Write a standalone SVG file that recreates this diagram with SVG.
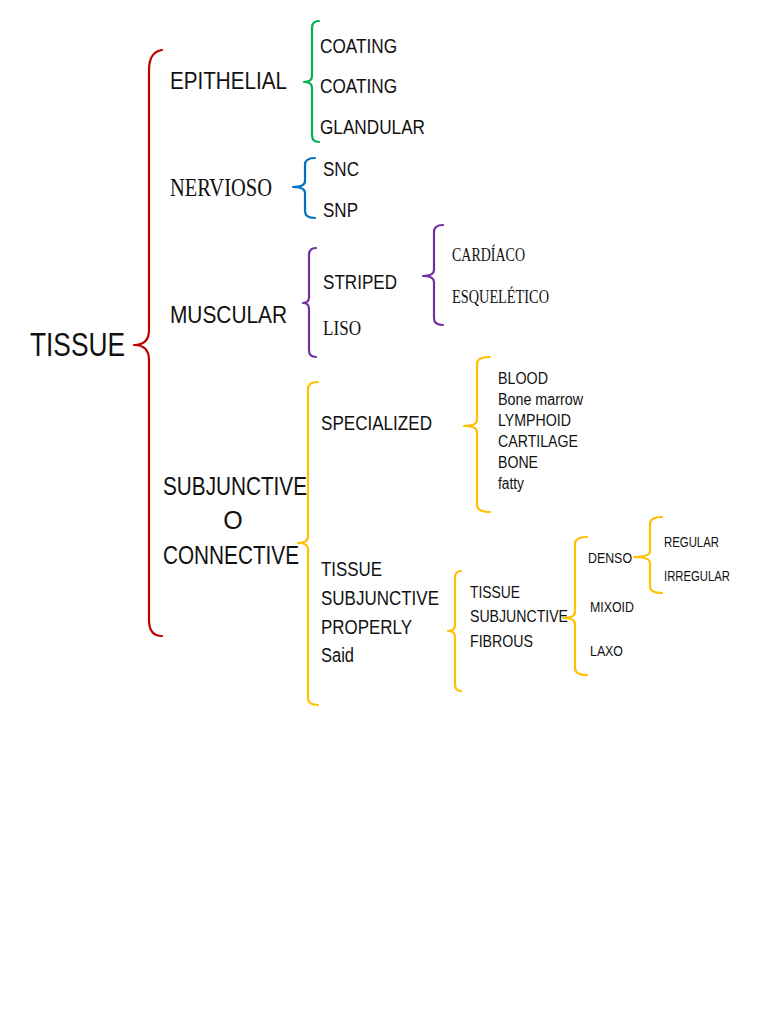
<svg xmlns="http://www.w3.org/2000/svg" width="768" height="1024" viewBox="0 0 768 1024">
<style>
.s{font-family:"Liberation Sans",Arial,sans-serif;fill:#111}
.r{font-family:"Liberation Serif","Times New Roman",serif;fill:#111}
.b{fill:none;stroke-width:2.2;stroke-linecap:round;stroke-linejoin:round}
</style>
<rect width="768" height="1024" fill="#fff"/>
<g id="connectors">
<path class="b" stroke="#C00000" d="M162 50 Q149 52 149 70 L149 330 Q149 345 134 345 Q149 345 149 360 L149 620 Q149 636 162 636"/>
<path class="b" stroke="#00B050" d="M319 21 Q312 21 312 28 L312 76 Q312 82 304 82 Q312 82 312 88 L312 135 Q312 142 319 142"/>
<path class="b" stroke="#0070C0" d="M315 158 Q305 158 305 165 L305 181 Q305 187 293 187 Q305 187 305 193 L305 211 Q305 218 315 218"/>
<path class="b" stroke="#7030A0" d="M316 248 Q309 248 309 255 L309 297 Q309 303 303 303 Q309 303 309 309 L309 350 Q309 357 316 357"/>
<path class="b" stroke="#7030A0" d="M443 225 Q434 225 434 232 L434 270 Q434 276 423 276 Q434 276 434 282 L434 318 Q434 325 443 325"/>
<path class="b" stroke="#FFC000" d="M318 382 Q308 382 308 389 L308 537 Q308 543 298 543 Q308 543 308 549 L308 698 Q308 705 318 705"/>
<path class="b" stroke="#FFC000" d="M490 357 Q477 357 477 364 L477 420 Q477 426 464 426 Q477 426 477 432 L477 505 Q477 512 490 512"/>
<path class="b" stroke="#FFC000" d="M461 571 Q455 571 455 578 L455 625 Q455 631 448 631 Q455 631 455 637 L455 684 Q455 691 461 691"/>
<path class="b" stroke="#FFC000" d="M587 537 Q575 537 575 544 L575 612 Q575 618 563 618 Q575 618 575 624 L575 668 Q575 675 587 675"/>
<path class="b" stroke="#FFC000" d="M662 517 Q650 517 650 524 L650 551 Q650 557 634 557 Q650 557 650 563 L650 586 Q650 593 662 593"/>
</g>
<g id="tissue"><text class="s" x="30" y="356" font-size="34" textLength="95" lengthAdjust="spacingAndGlyphs">TISSUE</text></g>
<g id="epithelial"><text class="s" x="170" y="89" font-size="24" textLength="117" lengthAdjust="spacingAndGlyphs">EPITHELIAL</text></g>
<g id="coating1"><text class="s" x="320" y="53" font-size="20" textLength="77" lengthAdjust="spacingAndGlyphs">COATING</text></g>
<g id="coating2"><text class="s" x="320" y="93" font-size="20" textLength="77" lengthAdjust="spacingAndGlyphs">COATING</text></g>
<g id="glandular"><text class="s" x="320" y="134" font-size="20" textLength="105" lengthAdjust="spacingAndGlyphs">GLANDULAR</text></g>
<g id="nervioso"><text class="r" x="170" y="196" font-size="26" textLength="102" lengthAdjust="spacingAndGlyphs">NERVIOSO</text></g>
<g id="snc"><text class="s" x="323" y="176" font-size="20" textLength="36" lengthAdjust="spacingAndGlyphs">SNC</text></g>
<g id="snp"><text class="s" x="323" y="217" font-size="20" textLength="35" lengthAdjust="spacingAndGlyphs">SNP</text></g>
<g id="muscular"><text class="s" x="170" y="323" font-size="24" textLength="117" lengthAdjust="spacingAndGlyphs">MUSCULAR</text></g>
<g id="striped"><text class="s" x="323" y="289" font-size="20" textLength="74" lengthAdjust="spacingAndGlyphs">STRIPED</text></g>
<g id="liso"><text class="r" x="323" y="335" font-size="20" textLength="38" lengthAdjust="spacingAndGlyphs">LISO</text></g>
<g id="cardiaco"><text class="r" x="452" y="261" font-size="18" textLength="73" lengthAdjust="spacingAndGlyphs">CARDÍACO</text></g>
<g id="esqueletico"><text class="r" x="452" y="303" font-size="18" textLength="97" lengthAdjust="spacingAndGlyphs">ESQUELÉTICO</text></g>
<g id="connective">
<text class="s" x="163" y="495" font-size="25" textLength="144" lengthAdjust="spacingAndGlyphs">SUBJUNCTIVE</text>
<text class="s" x="233" y="529" font-size="25" text-anchor="middle">O</text>
<text class="s" x="163" y="564" font-size="25" textLength="136" lengthAdjust="spacingAndGlyphs">CONNECTIVE</text>
</g>
<g id="specialized"><text class="s" x="321" y="430" font-size="20" textLength="111" lengthAdjust="spacingAndGlyphs">SPECIALIZED</text></g>
<g id="specialized-list" font-size="16">
<text class="s" x="498" y="384" textLength="50" lengthAdjust="spacingAndGlyphs">BLOOD</text>
<text class="s" x="498" y="405" textLength="85" lengthAdjust="spacingAndGlyphs">Bone marrow</text>
<text class="s" x="498" y="426" textLength="73" lengthAdjust="spacingAndGlyphs">LYMPHOID</text>
<text class="s" x="498" y="447" textLength="80" lengthAdjust="spacingAndGlyphs">CARTILAGE</text>
<text class="s" x="498" y="468" textLength="40" lengthAdjust="spacingAndGlyphs">BONE</text>
<text class="s" x="498" y="489" textLength="26" lengthAdjust="spacingAndGlyphs">fatty</text>
</g>
<g id="proper" font-size="20">
<text class="s" x="321" y="576" textLength="61" lengthAdjust="spacingAndGlyphs">TISSUE</text>
<text class="s" x="321" y="605" textLength="118" lengthAdjust="spacingAndGlyphs">SUBJUNCTIVE</text>
<text class="s" x="321" y="634" textLength="91" lengthAdjust="spacingAndGlyphs">PROPERLY</text>
<text class="s" x="321" y="662" textLength="33" lengthAdjust="spacingAndGlyphs">Said</text>
</g>
<g id="fibrous" font-size="17">
<text class="s" x="470" y="598" textLength="50" lengthAdjust="spacingAndGlyphs">TISSUE</text>
<text class="s" x="470" y="622" textLength="98" lengthAdjust="spacingAndGlyphs">SUBJUNCTIVE</text>
<text class="s" x="470" y="647" textLength="63" lengthAdjust="spacingAndGlyphs">FIBROUS</text>
</g>
<g id="denso"><text class="s" x="588" y="563" font-size="15" textLength="44" lengthAdjust="spacingAndGlyphs">DENSO</text></g>
<g id="mixoid"><text class="s" x="590" y="612" font-size="15" textLength="44" lengthAdjust="spacingAndGlyphs">MIXOID</text></g>
<g id="laxo"><text class="s" x="590" y="656" font-size="15" textLength="33" lengthAdjust="spacingAndGlyphs">LAXO</text></g>
<g id="regular"><text class="s" x="664" y="547" font-size="14" textLength="55" lengthAdjust="spacingAndGlyphs">REGULAR</text></g>
<g id="irregular"><text class="s" x="664" y="581" font-size="14" textLength="66" lengthAdjust="spacingAndGlyphs">IRREGULAR</text></g>
</svg>
